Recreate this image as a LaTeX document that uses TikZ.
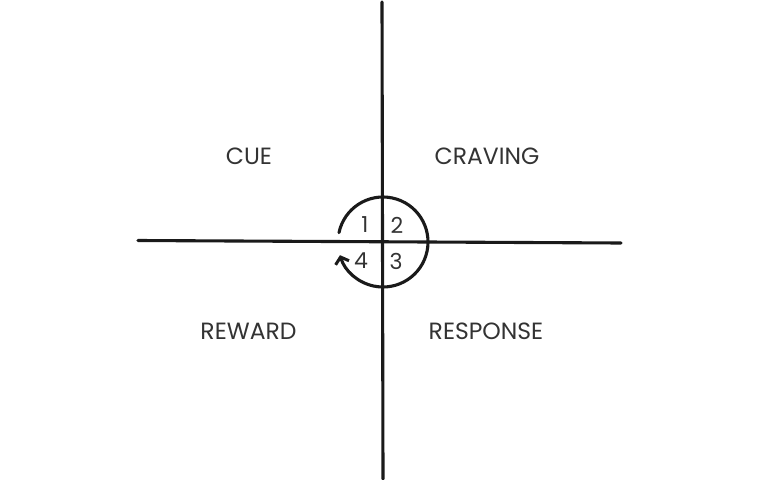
\documentclass[tikz,border=0pt]{standalone}
\usepackage{fontspec}
\setmainfont{Poppins}
\usepackage{xcolor}
\usetikzlibrary{arrows.meta}
\definecolor{inkline}{HTML}{1A1A1A}
\definecolor{inktext}{HTML}{333333}
\tikzset{
    axis line/.style = {draw=inkline, line width=3.1pt, line cap=round},
    loop line/.style = {draw=inkline, line width=3.1pt, line cap=round, -{Straight Barb[length=6pt, width=14pt, line width=3pt]}},
    stage/.style = {text=inktext, font=\fontsize{23.5}{26}\selectfont, inner sep=0pt},
    digit/.style = {stage, font=\fontsize{22}{26}\selectfont},
}

\begin{document}
\begin{tikzpicture}[x=1pt, y=-1pt]
            \useasboundingbox (0, 0) rectangle (768, 479);

            \coordinate (top) at (382, 2);
            \coordinate (bottom) at (383, 479);
            \coordinate (left) at (138, 240.5);
            \coordinate (right) at (621, 243);
            \coordinate (hub) at (383, 242);

            \node[stage] (cue) at (249, 156) {CUE};
            \node[stage] (craving) at (487, 156) {CRAVING};
            \node[stage] (reward) at (248.5, 331.5) {REWARD};
            \node[stage] (response) at (486, 331.5) {RESPONSE};

            \node[digit] (n1) at (365, 225) {1};
            \node[digit] (n2) at (397, 225) {2};
            \node[digit] (n3) at (396, 261) {3};
            \node[digit] (n4) at (361, 261) {4};

            \draw[axis line] (top) -- (bottom);
            \draw[axis line] (left) -- (right);
            \draw[loop line] ([shift={(-168:45)}]hub) arc[start angle=-168, end angle=163, radius=45];
        \end{tikzpicture}
\end{document}
